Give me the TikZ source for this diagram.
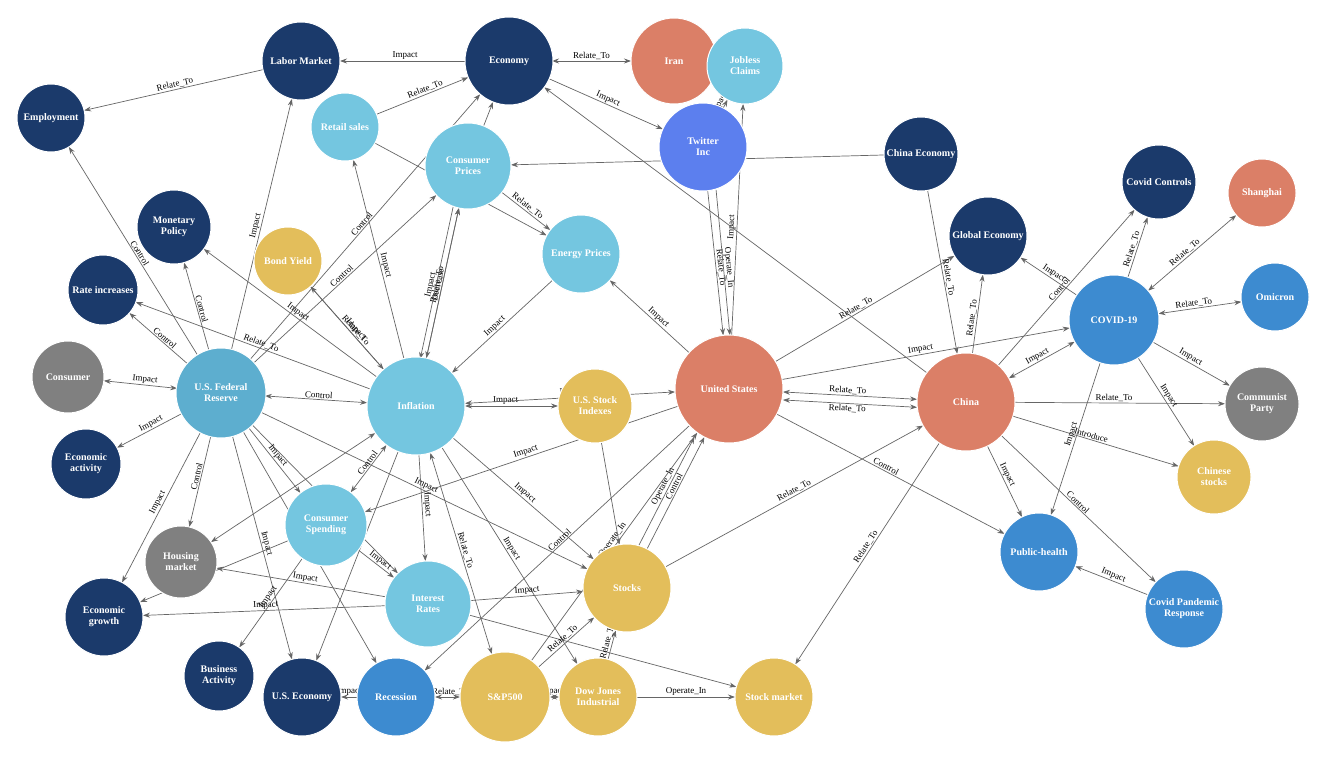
\documentclass[tikz,border=0pt]{standalone}
\usepackage{fontspec}
\setmainfont{Liberation Serif}
\usetikzlibrary{arrows.meta}
\definecolor{navy}{HTML}{1B3A6B}
\definecolor{lb}{HTML}{74C6E0}
\definecolor{sal}{HTML}{DB7F67}
\definecolor{gold}{HTML}{E3BE5B}
\definecolor{gr}{HTML}{808080}
\definecolor{bl}{HTML}{3D8BD0}
\definecolor{fed}{HTML}{5DAECF}
\definecolor{tw}{HTML}{5C7FEE}
\tikzset{
 nd/.style={circle,draw=white,line width=1pt,text=white,font=\bfseries\fontsize{10}{11}\selectfont,align=center,inner sep=0pt},
 ed/.style={draw=black!60,line width=0.7pt,-{Stealth[length=7pt,width=5pt]},shorten >=1pt},
 bi/.style={ed,{Stealth[length=7pt,width=5pt]}-{Stealth[length=7pt,width=5pt]}},
 lbl/.style={sloped,above,inner sep=1pt,font=\fontsize{9}{10}\selectfont,text=black}
}
\begin{document}
\begin{tikzpicture}[x=1pt,y=-1pt]
\useasboundingbox[fill=white] (0,0) rectangle (1323,757);
% edges first (behind nodes) - use coordinates then nodes drawn on top
\def\N#1#2#3#4#5{\coordinate (#1) at (#2);}
\coordinate (emp) at (51,118); \coordinate (lab) at (301,61); \coordinate (eco) at (509,61);
\coordinate (iran) at (674,61); \coordinate (job) at (745,66); \coordinate (ret) at (345,127);
\coordinate (cp) at (468,166); \coordinate (tw) at (703,147); \coordinate (che) at (921,154);
\coordinate (cc) at (1159,182); \coordinate (sh) at (1262,193); \coordinate (mp) at (174,227);
\coordinate (by) at (288,261); \coordinate (ep) at (581,254); \coordinate (ge) at (988,236);
\coordinate (ri) at (103,290); \coordinate (omi) at (1275,297); \coordinate (cov) at (1114,320);
\coordinate (con) at (68,377); \coordinate (fedr) at (221,393); \coordinate (inf) at (416,406);
\coordinate (usi) at (595,406); \coordinate (us) at (729,389); \coordinate (chn) at (966,402);
\coordinate (cpy) at (1262,404); \coordinate (ea) at (86,464); \coordinate (cs) at (1214,477);
\coordinate (csp) at (326,525); \coordinate (hm) at (181,562); \coordinate (ph) at (1039,552);
\coordinate (ir) at (428,604); \coordinate (stk) at (627,588); \coordinate (eg) at (104,617);
\coordinate (cpr) at (1184,609); \coordinate (ba) at (219,676); \coordinate (use) at (302,697);
\coordinate (rec) at (396,697); \coordinate (sp) at (505,697); \coordinate (dj) at (598,697);
\coordinate (sm) at (774,697);
% helper: edge with shortening by radii
\def\E#1#2#3#4#5#6{\draw[#1,shorten <=#4pt,shorten >=#5pt] (#2) -- node[lbl]{#6} (#3);}
\E{ed}{lab}{emp}{38}{34}{Relate\_To}
\E{ed}{eco}{lab}{43}{39}{Impact}
\E{bi}{eco}{iran}{43}{43}{Relate\_To}
\E{ed}{ret}{eco}{33}{44}{Relate\_To}
\E{ed}{cp}{eco}{42}{44}{}
\E{ed}{eco}{tw}{43}{44}{Impact}
\E{ed}{tw}{job}{43}{38}{Impact}
\E{ed}{che}{cp}{36}{43}{}
\E{ed}{cp}{ep}{42}{39}{Relate\_To}
\E{ed}{ret}{ep}{33}{39}{Introduce}
\E{ed}{tw}{us}{43}{54}{Relate\_To}
\draw[ed,shorten <=43pt,shorten >=54pt] (tw.east) ++(0,0) (712,147) -- node[lbl]{Operate\_In} (735,389);
\E{ed}{us}{job}{54}{38}{Impact}
\E{ed}{chn}{eco}{48}{44}{}
\E{ed}{fedr}{emp}{44}{34}{Control}
\E{ed}{fedr}{mp}{44}{37}{Control}
\E{ed}{fedr}{ri}{44}{35}{Control}
\E{bi}{fedr}{con}{44}{36}{Impact}
\E{ed}{fedr}{ea}{44}{35}{Impact}
\E{ed}{fedr}{eg}{44}{39}{Impact}
\E{ed}{fedr}{hm}{44}{36}{Control}
\E{ed}{fedr}{use}{44}{39}{Impact}
\E{ed}{fedr}{lab}{44}{39}{Impact}
\E{ed}{fedr}{eco}{44}{44}{Control}
\E{ed}{fedr}{cp}{44}{43}{Control}
\E{bi}{fedr}{inf}{44}{49}{Control}
\E{ed}{fedr}{ir}{44}{43}{Control}
\E{ed}{fedr}{csp}{44}{41}{Impact}
\E{ed}{fedr}{stk}{44}{44}{Impact}
\E{ed}{fedr}{rec}{44}{39}{Impact}
\E{ed}{inf}{ri}{49}{35}{Relate\_To}
\E{ed}{inf}{by}{49}{34}{Relate\_To}
\E{ed}{inf}{mp}{49}{37}{Impact}
\E{ed}{by}{inf}{34}{49}{Impact}
\E{ed}{inf}{ret}{49}{34}{Impact}
\E{ed}{inf}{cp}{49}{43}{Decrease}
\E{bi}{cp}{inf}{43}{49}{Relate\_To}
\draw[ed,shorten <=42pt,shorten >=48pt] (462,166) -- node[lbl]{Impact} (410,406);
\E{ed}{ep}{inf}{39}{49}{Impact}
\E{bi}{inf}{usi}{49}{37}{Impact}
\E{bi}{inf}{us}{49}{54}{Impact}
\E{bi}{inf}{csp}{49}{41}{Control}
\E{ed}{inf}{ir}{49}{43}{Impact}
\E{ed}{inf}{stk}{49}{44}{Impact}
\E{bi}{inf}{hm}{49}{36}{}
\E{bi}{inf}{sp}{49}{45}{Relate\_To}
\E{ed}{inf}{dj}{49}{39}{Impact}
\E{ed}{inf}{use}{49}{39}{}
\E{ed}{us}{ep}{54}{39}{Impact}
\E{bi}{us}{chn}{54}{49}{Relate\_To}
\draw[bi,shorten <=54pt,shorten >=49pt] (729,397) -- node[lbl,below]{Relate\_To} (966,410);
\E{ed}{us}{ge}{54}{39}{Relate\_To}
\E{ed}{us}{cov}{54}{45}{Impact}
\E{ed}{us}{ph}{54}{39}{Control}
\E{ed}{us}{csp}{54}{41}{Impact}
\E{ed}{us}{rec}{54}{39}{Control}
\E{ed}{stk}{us}{44}{54}{Control}
\draw[ed,shorten <=44pt,shorten >=54pt] (617,588) -- node[lbl]{Operate\_In} (719,389);
\E{ed}{sp}{us}{45}{54}{Operate\_In}
\E{ed}{stk}{chn}{44}{49}{Relate\_To}
\E{ed}{chn}{sm}{49}{39}{Relate\_To}
\E{ed}{chn}{cpy}{49}{37}{Relate\_To}
\E{ed}{chn}{cs}{49}{37}{Introduce}
\E{ed}{chn}{ph}{49}{39}{Impact}
\E{ed}{chn}{cpr}{49}{39}{Control}
\E{ed}{chn}{ge}{49}{39}{Relate\_To}
\E{ed}{chn}{cc}{49}{37}{Control}
\E{bi}{chn}{cov}{49}{45}{Impact}
\E{ed}{che}{chn}{37}{49}{Relate\_To}
\E{ed}{cov}{ge}{45}{39}{Impact}
\E{ed}{cov}{cc}{45}{37}{Relate\_To}
\E{bi}{cov}{sh}{45}{34}{Relate\_To}
\E{bi}{cov}{omi}{45}{34}{Relate\_To}
\E{ed}{cov}{cpy}{45}{37}{Impact}
\E{ed}{cov}{cs}{45}{37}{Impact}
\E{ed}{cov}{ph}{45}{39}{Impact}
\E{ed}{cpr}{ph}{39}{39}{Impact}
\E{ed}{ir}{hm}{43}{36}{Impact}
\E{ed}{ir}{eg}{43}{39}{Impact}
\E{ed}{ir}{sm}{43}{39}{}
\E{ed}{csp}{ba}{41}{35}{Impact}
\E{ed}{csp}{eg}{41}{39}{}
\E{ed}{csp}{ir}{41}{43}{Impact}
\E{bi}{rec}{sp}{39}{45}{Relate\_To}
\E{ed}{rec}{use}{39}{39}{Impact}
\E{bi}{sp}{dj}{45}{39}{Impact}
\E{ed}{sp}{stk}{45}{44}{Relate\_To}
\E{ed}{dj}{stk}{39}{44}{Relate\_To}
\E{ed}{dj}{sm}{39}{39}{Operate\_In}
\E{ed}{ir}{stk}{43}{44}{Impact}
\E{ed}{usi}{stk}{37}{44}{}
% nodes
\def\M#1#2#3#4{\node[nd,fill=#2,minimum size=#3pt] at (#1) {#4};}
\M{emp}{navy}{68}{Employment}
\M{lab}{navy}{78}{Labor Market}
\M{eco}{navy}{88}{Economy}
\M{iran}{sal}{86}{Iran}
\M{job}{lb}{76}{Jobless\\Claims}
\M{ret}{lb}{68}{Retail sales}
\M{cp}{lb}{86}{Consumer\\Prices}
\M{tw}{tw}{88}{Twitter\\Inc}
\M{che}{navy}{74}{China Economy}
\M{cc}{navy}{74}{Covid Controls}
\M{sh}{sal}{68}{Shanghai}
\M{mp}{navy}{74}{Monetary\\Policy}
\M{by}{gold}{68}{Bond Yield}
\M{ep}{lb}{78}{Energy Prices}
\M{ge}{navy}{78}{Global Economy}
\M{ri}{navy}{70}{Rate increases}
\M{omi}{bl}{68}{Omicron}
\M{cov}{bl}{90}{COVID-19}
\M{con}{gr}{72}{Consumer}
\M{fedr}{fed}{90}{U.S. Federal\\Reserve}
\M{inf}{lb}{98}{Inflation}
\M{usi}{gold}{74}{U.S. Stock\\Indexes}
\M{us}{sal}{108}{United States}
\M{chn}{sal}{98}{China}
\M{cpy}{gr}{74}{Communist\\Party}
\M{ea}{navy}{70}{Economic\\activity}
\M{cs}{gold}{74}{Chinese\\stocks}
\M{csp}{lb}{82}{Consumer\\Spending}
\M{hm}{gr}{72}{Housing\\market}
\M{ph}{bl}{78}{Public-health}
\M{ir}{lb}{86}{Interest\\Rates}
\M{stk}{gold}{88}{Stocks}
\M{eg}{navy}{78}{Economic\\growth}
\M{cpr}{bl}{78}{Covid Pandemic\\Response}
\M{ba}{navy}{70}{Business\\Activity}
\M{use}{navy}{78}{U.S. Economy}
\M{rec}{bl}{78}{Recession}
\M{sp}{gold}{90}{S\&P500}
\M{dj}{gold}{78}{Dow Jones\\Industrial}
\M{sm}{gold}{78}{Stock market}
\end{tikzpicture}
\end{document}
